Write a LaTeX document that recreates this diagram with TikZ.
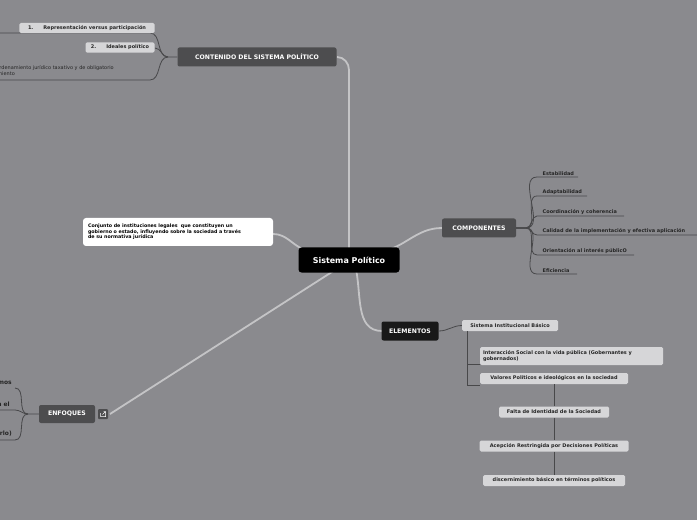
\documentclass[tikz,border=0pt]{standalone}
\usepackage{fontspec}
\setmainfont{DejaVu Sans}
\begin{document}
\begin{tikzpicture}[x=1bp,y=-1bp,
  font=\bfseries\fontsize{5}{6}\selectfont,
  hdr/.style={fill=hdrc,text=white,rounded corners=2bp,font=\bfseries\fontsize{6.2}{7}\selectfont,inner xsep=6bp,minimum height=19bp},
  lbox/.style={fill=boxc,rounded corners=1.5bp,inner sep=2.5bp,text=black!85},
  ulab/.style={anchor=south west,inner sep=1.5bp,text=black!85},
  main/.style={draw=mainc,line width=1.8bp},
  sub/.style={draw=subc,line width=0.8bp}]
\definecolor{bgc}{RGB}{138,138,142}
\definecolor{hdrc}{RGB}{77,77,79}
\definecolor{boxc}{RGB}{214,214,216}
\definecolor{mainc}{RGB}{196,196,198}
\definecolor{subc}{RGB}{72,72,74}
\fill[bgc] (0,0) rectangle (697,520);
\useasboundingbox (0,0) rectangle (697,520);
\begin{scope}
\clip (0,0) rectangle (697,520);
% central connectors
\draw[main] (349,250) -- (349,70) to[out=90,in=0] (337,57);
\draw[main] (380,252) to[out=10,in=180] (442,228);
\draw[main] (355,265) to[out=-75,in=180] (382,331);
\draw[main] (335,270) -- (110,414);
\draw[main] (273,234) to[out=0,in=160] (305,250);
\node[fill=black,text=white,rounded corners=3bp,font=\bfseries\fontsize{8}{9}\selectfont,minimum width=101bp,minimum height=25bp] (sp) at (349,260) {Sistema Político};
\node[fill=white,rounded corners=3bp,align=left,text width=180bp,inner xsep=5bp,minimum height=28bp,text=black,font=\bfseries\fontsize{4.8}{5.6}\selectfont] (def) at (178,232) {Conjunto de instituciones legales \ que constituyen un\\gobierno o estado, influyendo sobre la sociedad a través\\de su normativa jurídica};
% contenido
\node[hdr,minimum width=159bp] (cont) at (257,57) {CONTENIDO DEL SISTEMA POLÍTICO};
\draw[sub] (cont.west) -- (168,57) to[out=180,in=0] (150,33) -- (0,33);
\draw[sub] (168,57) to[out=180,in=0] (155,48);
\draw[sub] (168,57) to[out=180,in=0] (150,80) -- (0,80);
\node[lbox,minimum width=135bp] (c1) at (87,28) {1.\hspace{10bp}Representación versus participación};
\node[lbox,minimum width=69bp] (c2) at (120,47.5) {2.\hspace{10bp}Ideales político};
\node[anchor=west,align=left,inner sep=0,text=black!85,font=\fontsize{5}{6}\selectfont] (c3) at (-19.5,71) {de un ordenamiento jurídico taxativo y de obligatorio\\cumplimiento};
% componentes
\node[hdr,minimum width=74bp] (comp) at (479,228) {COMPONENTES};
\foreach \y/\t/\w [count=\i] in {177/Estabilidad/37, 196/Adaptabilidad/46, 216/Coordinación y coherencia/83, 235/Calidad de la implementación y efectiva aplicación/160, 255/Orientación al interés públicO/93, 274/Eficiencia/36}{
  \node[ulab] (k\i) at (541,\y) {\t};
  \draw[sub] (comp.east) -- (526,228) to[out=0,in=180] (537,\y) -- (541+\w,\y);
}
% elementos
\node[hdr,fill=black!90,minimum width=57bp] (ele) at (410,331) {ELEMENTOS};
\draw[sub] (ele.east) to[out=0,in=180] (462,325.5);
\node[lbox,minimum width=96bp,minimum height=11bp,inner sep=1bp] (e1) at (510,325.5) {Sistema Institucional Básico};
\node[lbox,minimum width=183bp,minimum height=18bp,align=left,text width=177bp,inner sep=1bp] (e2) at (571.5,356) {Interacción Social con la vida pública (Gobernantes y\\gobernados)};
\node[lbox,minimum width=148bp,minimum height=11bp,inner sep=1bp] (e3) at (554,378.5) {Valores Políticos e ideológicos en la sociedad};
\draw[sub] (467,331) -- (467,385) -- (480,385);
\draw[sub] (467,364) -- (480,364);
\node[lbox,minimum width=110bp,minimum height=11bp,inner sep=1bp] (e4) at (554,412) {Falta de Identidad de la Sociedad};
\node[lbox,minimum width=149bp,minimum height=11bp,inner sep=1bp] (e5) at (554,446) {Acepción Restringida por Decisiones Políticas};
\node[lbox,minimum width=142bp,minimum height=11bp,inner sep=1bp] (e6) at (554,480.5) {discernimiento básico en términos políticos};
\draw[sub] (e3) -- (e4) (e4) -- (e5) (e5) -- (e6);
% enfoques
\node[hdr,minimum width=56bp,minimum height=18bp] (enf) at (67,414) {ENFOQUES};
\node[fill=hdrc,rounded corners=1bp,minimum size=10bp,inner sep=0] (ic) at (103,414) {};
\draw[white,line width=0.5bp] (100.5,413) -- (100.5,416.5) -- (105.5,416.5) -- (105.5,413) (103.5,411.5) -- (105.5,411.5) -- (105.5,413.5) (105.5,411.5) -- (102.5,414.5);
\draw[sub] (enf.west) -- (28,414) to[out=180,in=0] (15,388);
\draw[sub] (28,414) to[out=180,in=0] (15,410) -- (0,410);
\draw[sub] (28,414) to[out=180,in=0] (15,440) -- (0,440);
\node[anchor=south east,inner sep=1bp,font=\bfseries\fontsize{6}{7}\selectfont,text=black!85] (f1) at (13,386) {Sistemas autónomos};
\node[anchor=south east,inner sep=1bp,font=\bfseries\fontsize{6}{7}\selectfont,text=black!85] (f2) at (11,408) {Sistema en el};
\node[anchor=south east,inner sep=1bp,font=\bfseries\fontsize{6}{7}\selectfont,text=black!85] (f3) at (13,438) {(enfoque sistémico estudiarlo)};
\end{scope}
\end{tikzpicture}
\end{document}
